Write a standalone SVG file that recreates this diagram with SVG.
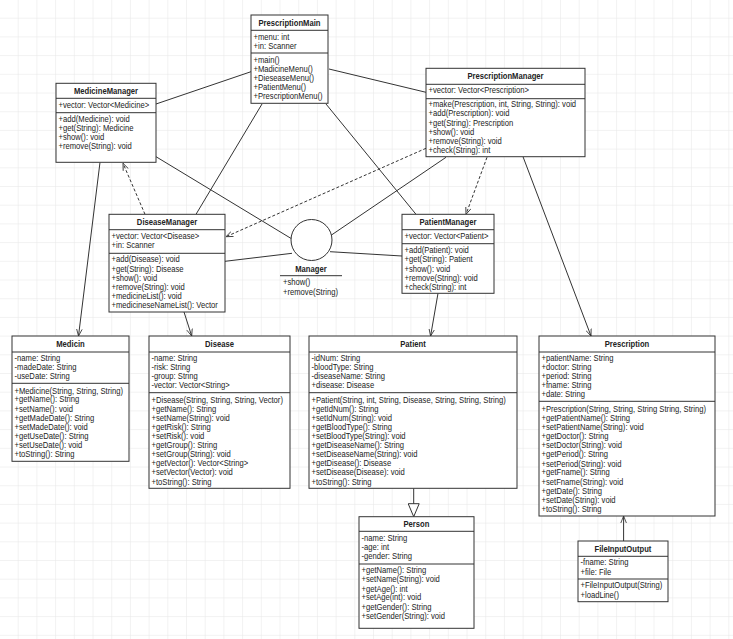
<svg xmlns="http://www.w3.org/2000/svg" width="733" height="639" viewBox="0 0 733 639">
<defs>
<pattern id="grid" width="18.7" height="18.7" patternUnits="userSpaceOnUse"><path d="M18.7 0V18.7H0" fill="none" stroke="#e6e6e6" stroke-width="1"/></pattern>
<marker id="open" viewBox="0 0 10 10" refX="10" refY="5" markerWidth="7" markerHeight="7" orient="auto-start-reverse"><path d="M0 1L10 5L0 9" fill="none" stroke="#333" stroke-width="1.2"/></marker>
<marker id="tri" viewBox="0 0 14 12" refX="13.5" refY="6" markerWidth="14" markerHeight="12" markerUnits="userSpaceOnUse" orient="auto"><path d="M0.5 0.5L13.5 6L0.5 11.5Z" fill="#fff" stroke="#333"/></marker>
<style>
.b{fill:#fff;stroke:#333;stroke-width:1}
.d{stroke:#333;stroke-width:1}
text{font-family:"Liberation Sans",Arial,sans-serif;font-size:8.5px;fill:#222}
.t{font-weight:bold;text-anchor:middle}
.c line{stroke:#333;stroke-width:1;fill:none}
.dash{stroke-dasharray:3 2}
</style>
</defs>
<rect width="733" height="639" fill="#fff"/>
<rect width="733" height="639" fill="url(#grid)"/>

<g class="c" id="connectors">
<line x1="251" y1="71.7" x2="156" y2="104"/>
<line x1="329" y1="69" x2="426" y2="92.3"/>
<line x1="262" y1="104" x2="196" y2="214.3"/>
<line x1="326" y1="104" x2="416" y2="214.3"/>
<line x1="156" y1="156.7" x2="292" y2="239"/>
<line x1="446" y1="157.3" x2="330" y2="236"/>
<line x1="225" y1="261.3" x2="292" y2="253.3"/>
<line x1="330" y1="251.7" x2="402" y2="256"/>
<line x1="100" y1="162.3" x2="78.5" y2="336" marker-end="url(#open)"/>
<line x1="184" y1="312" x2="191.7" y2="336" marker-end="url(#open)"/>
<line x1="438" y1="293.3" x2="430.6" y2="336" marker-end="url(#open)"/>
<line x1="523" y1="156.7" x2="591" y2="336" marker-end="url(#open)"/>
<line class="dash" x1="145" y1="214.3" x2="123" y2="163.3" marker-end="url(#open)"/>
<line class="dash" x1="426" y1="148.3" x2="226" y2="236.7" marker-end="url(#open)"/>
<line class="dash" x1="487" y1="157.3" x2="466" y2="214.3" marker-end="url(#open)"/>
<line x1="413.7" y1="488.3" x2="413.7" y2="516.7" marker-end="url(#tri)"/>
<line x1="623.6" y1="541" x2="623.6" y2="516" marker-end="url(#open)"/>
</g>

<g id="PrescriptionMain">
<rect class="b" x="251" y="15" width="77" height="88.3"/>
<line class="d" x1="251" y1="30.3" x2="328" y2="30.3"/><line class="d" x1="251" y1="53" x2="328" y2="53"/>
<g transform="translate(253.5,0) scale(0.9,1)">
<text class="t" x="40" y="26">PrescriptionMain</text>
<text y="40">+menu: int</text><text y="48.7">+in: Scanner</text>
<text y="63">+main()</text><text y="71.7">+MadicineMenu()</text><text y="81">+DieseaseMenu()</text><text y="89.7">+PatientMenu()</text><text y="99.3">+PrescriptionMenu()</text>
</g></g>

<g id="MedicineManager">
<rect class="b" x="56" y="83.3" width="100" height="79"/>
<line class="d" x1="56" y1="98.3" x2="156" y2="98.3"/><line class="d" x1="56" y1="112.7" x2="156" y2="112.7"/>
<g transform="translate(58.5,0) scale(0.9,1)">
<text class="t" x="52.8" y="94">MedicineManager</text>
<text y="107.7">+vector: Vector&lt;Medicine&gt;</text>
<text y="121.7">+add(Medicine): void</text><text y="131">+get(String): Medicine</text><text y="140">+show(): void</text><text y="149.3">+remove(String): void</text>
</g></g>

<g id="PrescriptionManager">
<rect class="b" x="426" y="68.3" width="159" height="88.4"/>
<line class="d" x1="426" y1="84.3" x2="585" y2="84.3"/><line class="d" x1="426" y1="98.7" x2="585" y2="98.7"/>
<g transform="translate(428.5,0) scale(0.9,1)">
<text class="t" x="85.6" y="79.3">PrescriptionManager</text>
<text y="93">+vector: Vector&lt;Prescription&gt;</text>
<text y="107.3">+make(Prescription, int, String, String): void</text><text y="116">+add(Prescription): void</text><text y="125.7">+get(String): Prescription</text><text y="134.7">+show(): void</text><text y="143.7">+remove(String): void</text><text y="153">+check(String): int</text>
</g></g>

<g id="DiseaseManager">
<rect class="b" x="109" y="214.3" width="116" height="97.7"/>
<line class="d" x1="109" y1="229.7" x2="225" y2="229.7"/><line class="d" x1="109" y1="253.3" x2="225" y2="253.3"/>
<g transform="translate(111.5,0) scale(0.9,1)">
<text class="t" x="61.7" y="225">DiseaseManager</text>
<text y="239.3">+vector: Vector&lt;Disease&gt;</text><text y="248">+in: Scanner</text>
<text y="262.3">+add(Disease): void</text><text y="271.7">+get(String): Disease</text><text y="280.7">+show(): void</text><text y="290">+remove(String): void</text><text y="299">+medicineList(): void</text><text y="308.3">+medicineseNameList(): Vector</text>
</g></g>

<g id="Manager">
<circle class="b" cx="311.5" cy="240" r="20.5"/>
<line class="d" x1="280" y1="275.7" x2="342" y2="275.7"/>
<g transform="translate(283,0) scale(0.9,1)">
<text class="t" x="31.1" y="271.7">Manager</text>
<text y="285.3">+show()</text><text y="295">+remove(String)</text>
</g></g>

<g id="PatientManager">
<rect class="b" x="402" y="214.3" width="92" height="79"/>
<line class="d" x1="402" y1="229.7" x2="494" y2="229.7"/><line class="d" x1="402" y1="243.7" x2="494" y2="243.7"/>
<g transform="translate(404.5,0) scale(0.9,1)">
<text class="t" x="48.3" y="225">PatientManager</text>
<text y="239.3">+vector: Vector&lt;Patient&gt;</text>
<text y="253.3">+add(Patient): void</text><text y="262.3">+get(String): Patient</text><text y="271.7">+show(): void</text><text y="280.7">+remove(String): void</text><text y="290">+check(String): int</text>
</g></g>

<g id="Medicin">
<rect class="b" x="12" y="336" width="117" height="125.3"/>
<line class="d" x1="12" y1="352" x2="129" y2="352"/><line class="d" x1="12" y1="383.3" x2="129" y2="383.3"/>
<g transform="translate(14.5,0) scale(0.9,1)">
<text class="t" x="62.2" y="347">Medicin</text>
<text y="361">-name: String</text><text y="370">-madeDate: String</text><text y="379">-useDate: String</text>
<text y="393.7">+Medicine(String, String, String)</text><text y="402.3">+getName(): String</text><text y="411.7">+setName(): void</text><text y="420.7">+getMadeDate(): String</text><text y="430">+setMadeDate(): void</text><text y="439">+getUseDate(): String</text><text y="448.3">+setUseDate(): void</text><text y="457">+toString(): String</text>
</g></g>

<g id="Disease">
<rect class="b" x="149" y="336" width="141" height="152.3"/>
<line class="d" x1="149" y1="352" x2="290" y2="352"/><line class="d" x1="149" y1="392.7" x2="290" y2="392.7"/>
<g transform="translate(151.5,0) scale(0.9,1)">
<text class="t" x="75.6" y="347">Disease</text>
<text y="361">-name: String</text><text y="370">-risk: String</text><text y="379">-group: String</text><text y="388">-vector: Vector&lt;String&gt;</text>
<text y="402.7">+Disease(String, String, String, Vector)</text><text y="412">+getName(): String</text><text y="421">+setName(String): void</text><text y="430">+getRisk(): String</text><text y="439">+setRisk(): void</text><text y="447.7">+getGroup(): String</text><text y="456.7">+setGroup(String): void</text><text y="466">+getVector(): Vector&lt;String&gt;</text><text y="475">+setVector(Vector): void</text><text y="485">+toString(): String</text>
</g></g>

<g id="Patient">
<rect class="b" x="309" y="336" width="208" height="152.3"/>
<line class="d" x1="309" y1="352" x2="517" y2="352"/><line class="d" x1="309" y1="392.7" x2="517" y2="392.7"/>
<g transform="translate(311.5,0) scale(0.9,1)">
<text class="t" x="112.8" y="347">Patient</text>
<text y="361">-idNum: String</text><text y="370">-bloodType: String</text><text y="379">-diseaseName: String</text><text y="388">+disease: Disease</text>
<text y="402.7">+Patient(String, int, String, Disease, String, String, String)</text><text y="412">+getIdNum(): String</text><text y="421">+setIdNum(String): void</text><text y="430">+getBloodType(): String</text><text y="439">+setBloodType(String): void</text><text y="447.7">+getDiseaseName(): String</text><text y="456.7">+setDiseaseName(String): void</text><text y="466">+getDisease(): Disease</text><text y="475">+setDisease(Disease): void</text><text y="485">+toString(): String</text>
</g></g>

<g id="Prescription">
<rect class="b" x="539" y="336" width="176" height="180"/>
<line class="d" x1="539" y1="352" x2="715" y2="352"/><line class="d" x1="539" y1="401.3" x2="715" y2="401.3"/>
<g transform="translate(541.5,0) scale(0.9,1)">
<text class="t" x="95" y="347">Prescription</text>
<text y="361">+patientName: String</text><text y="370">+doctor: String</text><text y="379">+period: String</text><text y="388">+fname: String</text><text y="397.3">+date: String</text>
<text y="412">+Prescription(String, String, String String, String)</text><text y="421">+getPatientName(): String</text><text y="430">+setPatientName(String): void</text><text y="439">+getDoctor(): String</text><text y="448.3">+setDoctor(String): void</text><text y="457.3">+getPeriod(): String</text><text y="466.7">+setPeriod(String): void</text><text y="475.3">+getFname(): String</text><text y="484.7">+setFname(String): void</text><text y="493.7">+getDate(): String</text><text y="503">+setDate(String): void</text><text y="512">+toString(): String</text>
</g></g>

<g id="Person">
<rect class="b" x="359" y="516.7" width="115" height="111.6"/>
<line class="d" x1="359" y1="531.3" x2="474" y2="531.3"/><line class="d" x1="359" y1="564" x2="474" y2="564"/>
<g transform="translate(361.5,0) scale(0.9,1)">
<text class="t" x="61.1" y="527.3">Person</text>
<text y="541">-name: String</text><text y="550.3">-age: int</text><text y="559.3">-gender: String</text>
<text y="573.3">+getName(): String</text><text y="582">+setName(String): void</text><text y="591.7">+getAge(): int</text><text y="600.3">+setAge(int): void</text><text y="610">+getGender(): String</text><text y="619">+setGender(String): void</text>
</g></g>

<g id="FileInputOutput">
<rect class="b" x="578" y="541" width="90" height="60.7"/>
<line class="d" x1="578" y1="556.3" x2="668" y2="556.3"/><line class="d" x1="578" y1="579" x2="668" y2="579"/>
<g transform="translate(580.5,0) scale(0.9,1)">
<text class="t" x="47.2" y="552">FileInputOutput</text>
<text y="565.3">-fname: String</text><text y="575">+file: File</text>
<text y="588.3">+FileInputOutput(String)</text><text y="597.7">+loadLine()</text>
</g></g>
</svg>
